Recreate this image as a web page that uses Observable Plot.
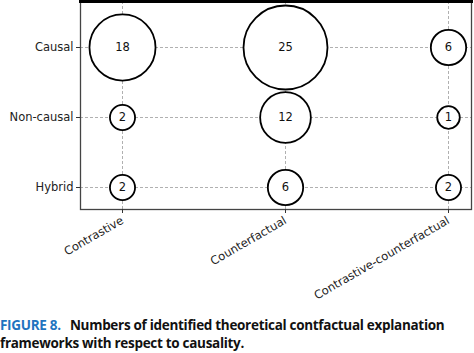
<!DOCTYPE html>
<html><head><meta charset="utf-8">
<script src="https://cdn.jsdelivr.net/npm/d3@7"></script>
<script src="https://cdn.jsdelivr.net/npm/@observablehq/plot@0.6"></script>
<style>
body{margin:0;background:#fff;}
#cap{margin-top:11px;padding-left:0;font-family:"Open Sans","Noto Sans",sans-serif;font-weight:700;font-size:13.5px;line-height:18px;color:#111;letter-spacing:-0.3px;}
#cap .fig{color:#1f74c0;margin-right:6px;}
</style>
</head><body>
<div id="chart"></div>
<div id="cap"><span class="fig">FIGURE 8.</span> Numbers of identified theoretical contfactual explanation<br>frameworks with respect to causality.</div>
<script>
const frameworks = ["Contrastive", "Counterfactual", "Contrastive-counterfactual"];
const causality = ["Causal", "Non-causal", "Hybrid"];
const causalCounts = [18, 25, 6];
const nonCausalCounts = [2, 12, 1];
const hybridCounts = [2, 6, 2];

const series = [causalCounts, nonCausalCounts, hybridCounts];
const data = [];
causality.forEach((c, i) => frameworks.forEach((f, j) => data.push({framework: f, causality: c, count: series[i][j]})));

const plot = Plot.plot({
  width: 474, height: 305,
  marginLeft: 80, marginRight: 3, marginTop: 1, marginBottom: 96,
  style: {fontFamily: "DejaVu Sans", fontSize: "11.5px", color: "#222", background: "#fff"},
  x: {type: "point", domain: frameworks, range: [121, 448], padding: 0, label: null},
  y: {type: "point", domain: causality, range: [46.7, 188], padding: 0, label: null},
  r: {type: "linear", domain: [0, 25], range: [10, 42]},
  marks: [
    Plot.gridX(frameworks, {stroke: "#b0b0b0", strokeOpacity: 1, strokeDasharray: "3,2"}),
    Plot.gridY(causality, {stroke: "#b0b0b0", strokeOpacity: 1, strokeDasharray: "3,2"}),
    Plot.frame({stroke: "#444", strokeWidth: 1.3}),
    Plot.frame({anchor: "top", stroke: "#000", strokeWidth: 3}),
    Plot.axisY({tickSize: 4, tickPadding: 3, stroke: "#333", fontSize: 11.5, label: null}),
    Plot.axisX({tickSize: 4, tickRotate: -30, tickPadding: 6, stroke: "#333", fontSize: 11.5, label: null}),
    Plot.dot(data, {x: "framework", y: "causality", r: "count", fill: "white", stroke: "black", strokeWidth: 1.8}),
    Plot.text(data, {x: "framework", y: "causality", text: "count", fontSize: 11.5, fill: "#111"})
  ]
});
document.getElementById("chart").appendChild(plot);
</script>
</body></html>
